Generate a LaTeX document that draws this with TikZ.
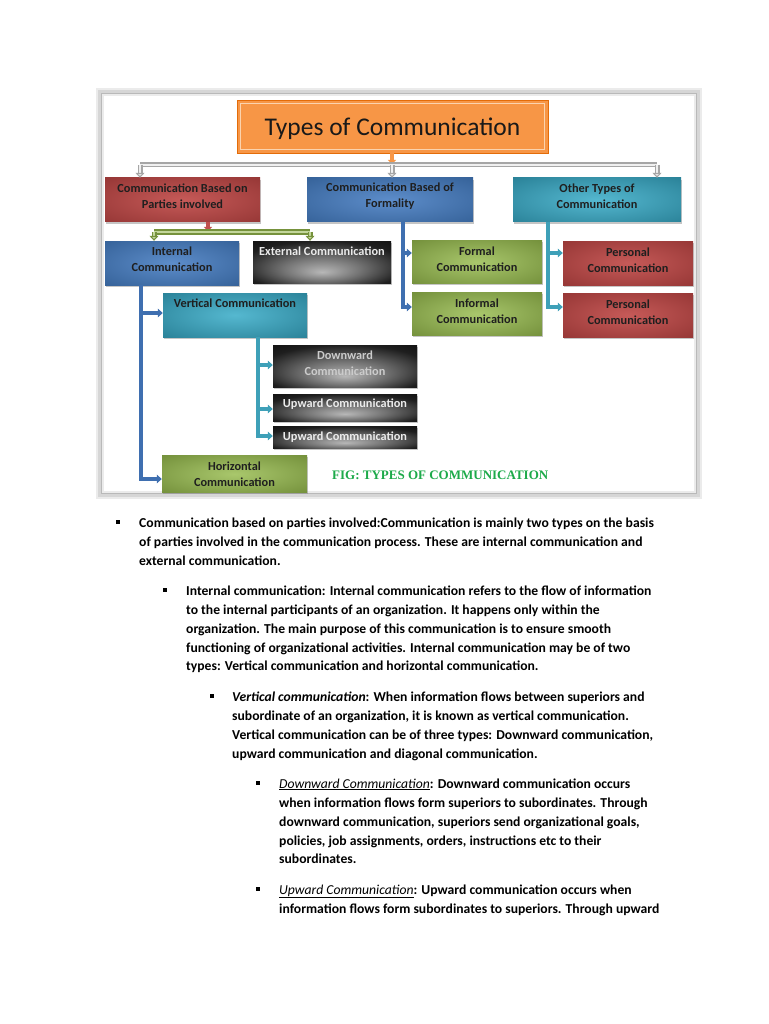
\documentclass[tikz,border=0pt]{standalone}
\usepackage{fontspec}
\setmainfont{Carlito}
\newfontfamily\figfont{Liberation Serif}
\usetikzlibrary{shadows,arrows.meta}
\definecolor{Rout}{HTML}{8E3130}\definecolor{Rin}{HTML}{C65A58}
\definecolor{Bout}{HTML}{2F5B91}\definecolor{Bin}{HTML}{5D8DCA}
\definecolor{Tout}{HTML}{23798F}\definecolor{Tin}{HTML}{55B8D0}
\definecolor{Gout}{HTML}{6B8733}\definecolor{Gin}{HTML}{A9C76C}
\definecolor{Org}{HTML}{F79646}\definecolor{OrgD}{HTML}{E36C09}\definecolor{OrgL}{HTML}{FBD3AE}
\definecolor{Bconn}{HTML}{3F6FB0}\definecolor{Tconn}{HTML}{3EA0B8}
\definecolor{Rconn}{HTML}{C0504D}\definecolor{GbarD}{HTML}{76923C}\definecolor{GbarL}{HTML}{C3D69B}
\definecolor{figgreen}{HTML}{1DAA4A}
\pgfdeclareradialshading{redsh}{\pgfpoint{0bp}{0bp}}{color(0bp)=(Rin); color(42bp)=(Rout); color(75bp)=(Rout)}
\pgfdeclareradialshading{bluesh}{\pgfpoint{0bp}{0bp}}{color(0bp)=(Bin); color(42bp)=(Bout); color(75bp)=(Bout)}
\pgfdeclareradialshading{tealsh}{\pgfpoint{0bp}{0bp}}{color(0bp)=(Tin); color(42bp)=(Tout); color(75bp)=(Tout)}
\pgfdeclareradialshading{greensh}{\pgfpoint{0bp}{0bp}}{color(0bp)=(Gin); color(42bp)=(Gout); color(75bp)=(Gout)}
\pgfdeclareradialshading{blacksh}{\pgfpoint{0bp}{-12bp}}{color(0bp)=(black!28); color(14bp)=(black!55); color(30bp)=(black!88); color(50bp)=(black)}
\begin{document}
\begin{tikzpicture}[x=1pt,y=-1pt,
  boxbase/.style={rectangle, inner sep=0pt, draw=none, shade,
     drop shadow={shadow xshift=1.2pt, shadow yshift=-1.6pt, opacity=0.45}},
  redbox/.style={boxbase, shading=redsh},
  bluebox/.style={boxbase, shading=bluesh},
  tealbox/.style={boxbase, shading=tealsh},
  greenbox/.style={boxbase, shading=greensh},
  blackbox/.style={boxbase, shading=blacksh},
  btxt/.style={inner sep=0pt, align=center, font=\fontsize{12.3}{16}\selectfont\bfseries, text=black!88},
  wtxt/.style={btxt, text=white!92!black},
  bline/.style={draw=Bconn, line width=3.6pt, line join=miter},
  tline/.style={draw=Tconn, line width=3.6pt, line join=miter},
  tipB/.style={-{Triangle[length=5pt,width=8.5pt]}},
  gbar/.style={draw=gray!70, double=gray!12, double distance=2.8pt, line width=1.1pt},
  grbar/.style={draw=GbarD, double=GbarL, double distance=2.8pt, line width=1.1pt},
  gtip/.style={-{Triangle[length=5pt,width=9pt,fill=gray!20,color=gray!70]}},
  grtip/.style={-{Triangle[length=5pt,width=9pt,fill=GbarL,color=GbarD]}},
  body/.style={anchor=base west, inner sep=0pt, font=\fontsize{13.65}{19}\selectfont\bfseries},
  bul/.style={fill=black, inner sep=0pt, minimum width=4.4pt, minimum height=4.8pt}
]
\useasboundingbox (0,0) rectangle (768,1024);
\fill[white] (0,0) rectangle (768,1024);

% frame
\draw[line width=8pt, gray!16] (100,92) rectangle (698,495);
\draw[line width=4pt, gray!32] (100,92) rectangle (698,495);
\draw[line width=1.2pt, gray!55] (101.5,93.5) rectangle (696.5,493.5);

% title
\node[rectangle, fill=Org, draw=OrgD, line width=0.8pt, minimum width=311pt, minimum height=53pt, inner sep=0pt] (title) at (392.5,126.5) {};
\draw[OrgL, line width=1.2pt] ([xshift=4pt,yshift=-4pt]title.north west) rectangle ([xshift=-4pt,yshift=4pt]title.south east);
\node[inner sep=0pt, font=\fontsize{25.5}{28}\selectfont, text=black!90] (titleT) at (392.5,128.5) {Types of Communication};

% level 1
\node[redbox, minimum width=155pt, minimum height=44pt] (A) at (182.5,200) {};
\node[btxt] (AT) at ([yshift=4pt]A.center) {Communication Based on\\Parties involved};
\node[bluebox, minimum width=166pt, minimum height=44pt] (B) at (390,200) {};
\node[btxt] (BT) at ([yshift=4pt]B.center) {Communication Based of\\Formality};
\node[tealbox, minimum width=168pt, minimum height=44pt] (C) at (597,200) {};
\node[btxt] (CT) at ([yshift=4pt]C.center) {Other Types of\\Communication};

% level 2
\node[bluebox, minimum width=134pt, minimum height=44pt] (Int) at (172,263) {};
\node[btxt] (IntT) at ([yshift=4pt]Int.center) {Internal\\Communication};
\node[blackbox, minimum width=138pt, minimum height=42pt] (Ext) at (322,262) {};
\node[wtxt] (ExtT) at ([yshift=-10.5pt]Ext.north) {External Communication};
\node[greenbox, minimum width=130pt, minimum height=43pt] (For) at (477,262) {};
\node[btxt] (ForT) at ([yshift=3pt]For.center) {Formal\\Communication};
\node[greenbox, minimum width=130pt, minimum height=43pt] (Inf) at (477,314) {};
\node[btxt] (InfT) at ([yshift=3pt]Inf.center) {Informal\\Communication};
\node[redbox, minimum width=130pt, minimum height=44pt] (P1) at (628,263) {};
\node[btxt] (P1T) at ([yshift=3pt]P1.center) {Personal\\Communication};
\node[redbox, minimum width=130pt, minimum height=44pt] (P2) at (628,315) {};
\node[btxt] (P2T) at ([yshift=3pt]P2.center) {Personal\\Communication};

% level 3
\node[tealbox, minimum width=144pt, minimum height=44pt] (Ver) at (235,315) {};
\node[btxt] (VerT) at ([yshift=-10.5pt]Ver.north) {Vertical Communication};
\node[blackbox, minimum width=144pt, minimum height=42pt] (Dow) at (345,366) {};
\node[wtxt, text=white!80!black] (DowT) at ([yshift=3pt]Dow.center) {Downward\\Communication};
\node[blackbox, minimum width=144pt, minimum height=27pt] (Up1) at (345,407.5) {};
\node[wtxt] (Up1T) at ([yshift=3pt]Up1.center) {Upward Communication};
\node[blackbox, minimum width=144pt, minimum height=22pt] (Up2) at (345,437.5) {};
\node[wtxt] (Up2T) at (Up2.center) {Upward Communication};
\node[greenbox, minimum width=145pt, minimum height=37pt] (Hor) at (234.5,474) {};
\node[btxt] (HorT) at (Hor.center) {Horizontal\\Communication};

\node[anchor=west, inner sep=0pt, font=\figfont\bfseries\fontsize{13}{15}\selectfont, text=figgreen] (fig) at (332,475) {FIG: TYPES OF COMMUNICATION};

% gray bar
\coordinate (gL) at (140,165);
\coordinate (gR) at (657,165);
\coordinate (gM) at (392,165);
\draw[line width=4.5pt, Org, -{Triangle[length=4pt,width=8pt]}] (title.south -| gM) -- ([yshift=1pt]gM);
\draw[gbar] (gL) -- (gR);
\draw[gbar, gtip] (gL) -- (A.north -| gL);
\draw[gbar, gtip] (gM) -- (B.north -| gM);
\draw[gbar, gtip] (gR) -- (C.north -| gR);

% green bracket
\coordinate (rL) at (154,232);
\coordinate (rR) at (310,232);
\coordinate (rM) at (208,232);
\draw[line width=4.5pt, Rconn, -{Triangle[length=4pt,width=8pt]}] (A.south -| rM) -- ([yshift=1pt]rM);
\draw[grbar] (rL) -- (rR);
\draw[grbar, grtip] (rL) -- (Int.north -| rL);
\draw[grbar, grtip] (rR) -- (Ext.north -| rR);

% formality connector
\coordinate (bF) at (403,253);
\coordinate (bI) at (403,307);
\draw[bline, tipB] (B.south -| bI) -- (bI) -- (Inf.west |- bI);
\draw[bline, tipB] (bF) -- (For.west |- bF);

% other types connector
\coordinate (tA) at (548,253);
\coordinate (tB) at (548,307);
\draw[tline, tipB] (C.south -| tB) -- (tB) -- (P2.west |- tB);
\draw[tline, tipB] (tA) -- (P1.west |- tA);

% internal connector
\coordinate (iV) at (141,313);
\coordinate (iH) at (141,479);
\draw[bline, tipB] (Int.south -| iH) -- (iH) -- (Hor.west |- iH);
\draw[bline, tipB] (iV) -- (Ver.west |- iV);

% vertical connector
\coordinate (vD) at (258,365);
\coordinate (vA) at (258,409);
\coordinate (vB) at (258,436);
\draw[tline, tipB] (Ver.south -| vB) -- (vB) -- (Up2.west |- vB);
\draw[tline, tipB] (vD) -- (Dow.west |- vD);
\draw[tline, tipB] (vA) -- (Up1.west |- vA);

% body text
\node[bul] (b1) at (118,522) {};
\node[body] (l1) at (139,527) {Communication based on parties involved:Communication is mainly two types on the basis};
\node[body] (l2) at (139,546) {of parties involved in the communication process. These are internal communication and};
\node[body] (l3) at (139,565) {external communication.};

\node[bul] (b2) at (165,590) {};
\node[body] (l4) at (186,595) {Internal communication: Internal communication refers to the flow of information};
\node[body] (l5) at (186,614) {to the internal participants of an organization. It happens only within the};
\node[body] (l6) at (186,633) {organization. The main purpose of this communication is to ensure smooth};
\node[body] (l7) at (186,652) {functioning of organizational activities. Internal communication may be of two};
\node[body] (l8) at (186,670) {types: Vertical communication and horizontal communication.};

\node[bul] (b3) at (212,696) {};
\node[body] (l9) at (232,701) {\textit{Vertical communication}: When information flows between superiors and};
\node[body] (l10) at (232,720) {subordinate of an organization, it is known as vertical communication.};
\node[body] (l11) at (232,739) {Vertical communication can be of three types: Downward communication,};
\node[body] (l12) at (232,758) {upward communication and diagonal communication.};

\node[bul] (b4) at (258,783) {};
\node[body] (l13) at (279,788) {{\mdseries\itshape\underline{Downward Communication}}: Downward communication occurs};
\node[body] (l14) at (279,807) {when information flows form superiors to subordinates. Through};
\node[body] (l15) at (279,826) {downward communication, superiors send organizational goals,};
\node[body] (l16) at (279,845) {policies, job assignments, orders, instructions etc to their};
\node[body] (l17) at (279,863) {subordinates.};

\node[bul] (b5) at (258,889) {};
\node[body] (l18) at (279,894) {{\mdseries\itshape\underline{Upward Communication}}: Upward communication occurs when};
\node[body] (l19) at (279,913) {information flows form subordinates to superiors. Through upward};
\end{tikzpicture}
\end{document}
